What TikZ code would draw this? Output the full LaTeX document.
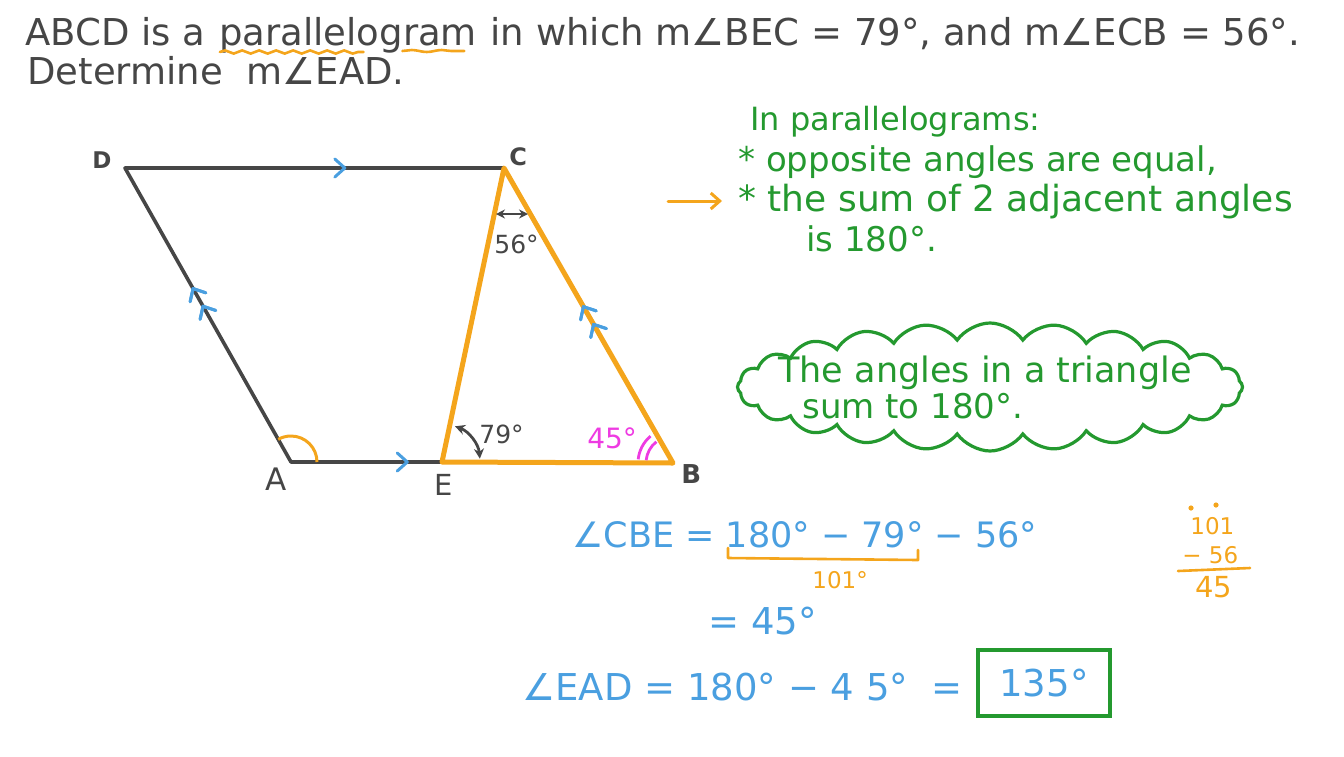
\documentclass[tikz,border=0pt]{standalone}
\usepackage{fontspec}
\setmainfont{DejaVu Sans}
\usetikzlibrary{arrows.meta,calc,decorations.markings,decorations.pathmorphing,shapes.symbols}
\definecolor{ink}{HTML}{464646}
\definecolor{greenink}{HTML}{24992F}
\definecolor{blueink}{HTML}{4A9FE0}
\definecolor{orangeink}{HTML}{F4A51C}
\definecolor{magentaink}{HTML}{EE3BE2}
\tikzset{every picture/.style={line width=0.75pt}}
\tikzset{
  chevmark/.style={postaction={decorate}, decoration={markings, mark=at position #1 with {\draw[blueink, line width=3pt, line cap=round, line join=round] (-10,-9) -- (0,0) -- (-10,9);}}},
  txt/.style={anchor=base west, inner sep=0pt},
  big/.style={font=\fontsize{37}{42}\selectfont},
  small/.style={font=\fontsize{25}{30}\selectfont},
  work/.style={font=\fontsize{37}{44}\selectfont}
}

\begin{document}
\begin{tikzpicture}[x=1pt,y=1pt,yscale=-1,xscale=1]
	\useasboundingbox (0,0) rectangle (1344,756);
	
	%Vertices
	\coordinate (D) at (125,168);
	\coordinate (C) at (504,168);
	\coordinate (A) at (291,462);
	\coordinate (E) at (442,462);
	\coordinate (B) at (673,463);
	
	%Parallelogram sides
	\draw [ink, line width=3.6pt, line join=round] (E) -- (A) -- (D) -- (C) -- (B) ;
	%Triangle ECB
	\draw [orangeink, line width=5pt, line join=round] (E) -- (C) -- (B) -- cycle ;
	%Parallel marks
	\path [chevmark=0.58] (D) -- (C) ;
	\path [chevmark=0.77] (A) -- (E) ;
	\path [chevmark=0.53, chevmark=0.59] (A) -- (D) ;
	\path [chevmark=0.47, chevmark=0.53] (B) -- (C) ;
	
	%Angle at A
	\draw [orangeink, line width=3pt] ([shift={(0:26)}]A) arc (0:-119.5:26) ;
	%Angle at E
	\draw [ink, line width=2.8pt, {Stealth[length=10pt,width=10pt]}-{Stealth[length=10pt,width=10pt]}] ([shift={(-70:38)}]E) arc (-70:-5:38) ;
	%Angle at C
	\coordinate (c1) at (496,214);
	\coordinate (c2) at (528,214);
	\draw [ink, line width=2.8pt, {Stealth[length=9pt,width=9pt]}-{Stealth[length=9pt,width=9pt]}] (c1) -- (c2) ;
	%Angle at B
	\draw [magentaink, line width=2.8pt] ([shift={(-174:27)}]B) arc (-174:-128:27) ;
	\draw [magentaink, line width=2.8pt] ([shift={(-174:35)}]B) arc (-174:-130:35) ;
	
	% Vertex labels
	\node [txt, ink, font=\fontsize{23}{26}\selectfont\bfseries] (labD) at (92,168) {D};
	\node [txt, ink, font=\fontsize{24}{28}\selectfont\bfseries] (labC) at (509,165) {C};
	\node [txt, ink, font=\fontsize{31}{36}\selectfont] (labA) at (265,490) {A};
	\node [txt, ink, font=\fontsize{29}{34}\selectfont] (labE) at (434,495) {E};
	\node [txt, ink, font=\fontsize{26}{32}\selectfont\bfseries] (labB) at (681,483) {B};
	% Angle labels
	\node [txt, ink, small] (ang56) at (494,253) {56°};
	\node [txt, ink, small] (ang79) at (479,443) {79°};
	\node [txt, magentaink, font=\fontsize{28}{34}\selectfont] (ang45) at (587,448) {45°};
	
	% Question
	\node [txt, ink, big] (q1) at (25,45) {ABCD is a};
	\node [txt, ink, big] (q2) at ([xshift=13pt]q1.base east) {parallelogram};
	\node [txt, ink, big] (q3) at ([xshift=13pt]q2.base east) {in which m∠BEC = 79°, and m∠ECB = 56°.};
	\node [txt, ink, big] (ask) at (27,84) {Determine\ \ m∠EAD.};
	\draw [orangeink, line width=2.6pt, line cap=round, decorate, decoration={snake, amplitude=1.6pt, segment length=17pt}] ($(q2.base west)+(1,7)$) -- ($(q2.base west)!0.56!(q2.base east)+(0,7)$) ;
	\draw [orangeink, line width=2.6pt, line cap=round, decorate, decoration={snake, amplitude=1pt, segment length=30pt}] ($(q2.base west)!0.71!(q2.base east)+(0,6)$) -- ($(q2.base west)!0.95!(q2.base east)+(0,6)$) ;
	
	% Facts
	\node [txt, greenink, font=\fontsize{32}{40}\selectfont] (fact0) at (750,130) {In parallelograms:};
	\node [txt, greenink, font=\fontsize{34}{40}\selectfont] (fact1) at (738,171) {* opposite angles are equal,};
	\node [txt, greenink, font=\fontsize{36}{40}\selectfont] (fact2) at (738,211) {* the sum of 2 adjacent angles};
	\node [txt, greenink, font=\fontsize{34}{40}\selectfont] (fact3) at (806,251) {is 180°.};
	\coordinate (pointer) at (668,201);
	\draw [orangeink, line width=3pt, line cap=round, -{Straight Barb[length=9pt,width=16pt]}] (pointer) -- ([xshift=-16pt, yshift=-10pt]fact2.base west) ;
	
	% Cloud note
	\node [cloud, draw=greenink, line width=3.2pt, cloud puffs=24, cloud puff arc=110, aspect=4.1, minimum width=505, minimum height=128, inner sep=0pt] (cloudnote) at (990,387) {};
	\node [txt, greenink, font=\fontsize{35}{40}\selectfont] (tri1) at (778,382) {The angles in a triangle};
	\node [txt, greenink, font=\fontsize{34}{40}\selectfont] (tri2) at (802,418) {sum to 180°.};
	
	% Working
	\node [txt, blueink, font=\fontsize{35}{44}\selectfont] (work1) at (572,547) {∠CBE = 180° − 79° − 56°};
	\coordinate (br1) at (728,548);
	\coordinate (br2) at (918,550);
	\draw [orangeink, line width=2.6pt, line cap=round, line join=round] (br1) -- ([yshift=10pt]br1) -- ([yshift=10pt]br2) -- (br2) ;
	\node [txt, orangeink, font=\fontsize{23}{28}\selectfont] (sub101) at (812,588) {101°};
	\node [txt, blueink, work] (work2) at (708,634) {= 45°};
	\node [txt, blueink, work] (work3) at (522,700) {∠EAD = 180° − 4 5°\ \ =};
	\node [draw=greenink, line width=3.2pt, minimum width=132, minimum height=66, inner sep=0pt, text=blueink, work] (answer) at (1044,683) {135°};
	
	% Side sum
	\node [txt, orangeink, font=\fontsize{23}{28}\selectfont] (col1) at (1190,534) {101};
	\fill [orangeink] (1191,508) circle (2.6pt) (1216,505) circle (2.6pt) ;
	\node [txt, orangeink, font=\fontsize{23}{28}\selectfont] (col2) at (1182,563) {− 56};
	\coordinate (bar1) at (1178,571);
	\coordinate (bar2) at (1250,568);
	\draw [orangeink, line width=2.6pt, line cap=round] (bar1) -- (bar2) ;
	\node [txt, orangeink, font=\fontsize{29}{34}\selectfont] (col3) at (1195,597) {45};
	
\end{tikzpicture}
\end{document}
